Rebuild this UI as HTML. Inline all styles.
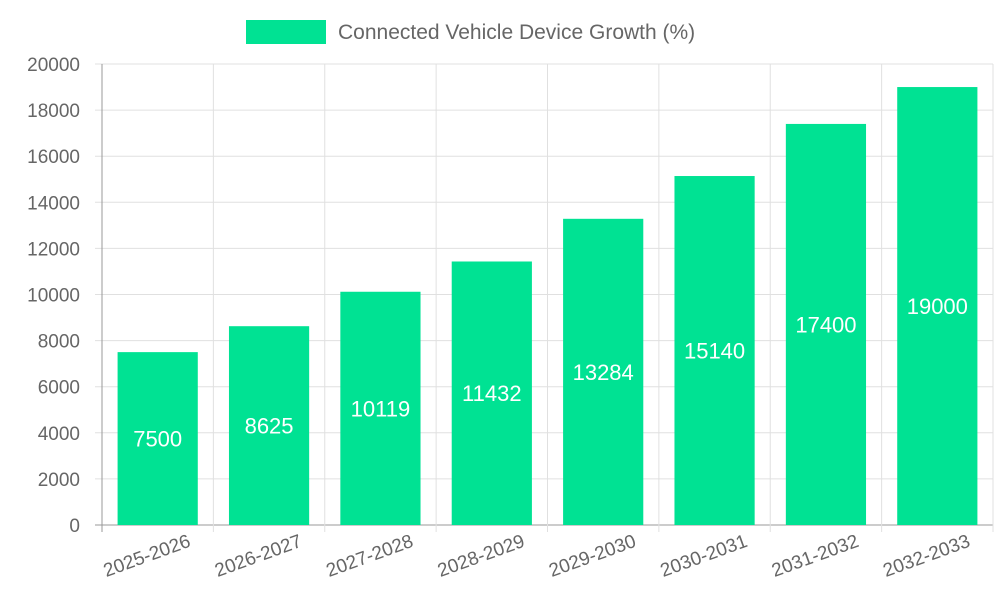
<!DOCTYPE html>
<html><head><meta charset="utf-8"><style>
body{margin:0;background:#fff;}
svg text{font-family:"Liberation Sans",sans-serif;}
</style></head><body>
<svg id="chart" width="1000" height="600">
<g>
<rect x="246" y="20" width="80" height="24" fill="#00e293"></rect>
<text x="338" y="39" font-size="21" fill="#666">Connected Vehicle Device Growth (%)</text>
</g>
<g id="grid"></g>
<g id="bars"></g>
<g id="axes"></g>
</svg>
<script>
const categories = ["2025-2026","2026-2027","2027-2028","2028-2029","2029-2030","2030-2031","2031-2032","2032-2033"];
const values = [7500, 8625, 10119, 11432, 13284, 15140, 17400, 19000];
const yTicks = [0,2000,4000,6000,8000,10000,12000,14000,16000,18000,20000];

const L=102, R=993, T=64, B=525, yMax=20000;
const bw=(R-L)/categories.length;
const y = v => B - v/yMax*(B-T);
const xc = i => L + bw*(i+0.5);
const NS="http://www.w3.org/2000/svg";
function mk(tag, attrs, parent){const e=document.createElementNS(NS,tag);for(const k in attrs)e.setAttribute(k,attrs[k]);parent.appendChild(e);return e;}
const grid=document.getElementById('grid'), bars=document.getElementById('bars'), axes=document.getElementById('axes');

yTicks.forEach(t=>{
  const g=mk('line',{x1:95,x2:R,y1:y(t),y2:y(t),stroke:t===0?'#999':'#e0e0e0','stroke-width':1},grid);
  
  
  const tx=mk('text',{x:80,y:y(t)+7,'text-anchor':'end','font-size':19,fill:'#666'},axes);
  tx.textContent=t;
  
  
});
for(let i=0;i<=categories.length;i++){
  const x=L+bw*i;
  const g=mk('line',{x1:x,x2:x,y1:T,y2:532,stroke:i===0?'#999':'#e0e0e0','stroke-width':1},grid);
  
  
}
categories.forEach((c,i)=>{
  const v=values[i], w=bw*0.72;
  const r=mk('rect',{x:xc(i)-w/2,y:y(v),width:w,height:B-y(v),fill:'#00e293'},bars);
  
  
  const vl=mk('text',{x:xc(i),y:(y(v)+B)/2+8,'text-anchor':'middle','font-size':22,fill:'#fff'},bars);
  vl.textContent=v;
  
  
  const cx=xc(i)+34, cy=546;
  const xl=mk('text',{x:cx,y:cy,'text-anchor':'end','font-size':19,fill:'#666',transform:`rotate(-20 ${cx} ${cy})`},axes);
  xl.textContent=c;
  
  
});
</script>
</body></html>
